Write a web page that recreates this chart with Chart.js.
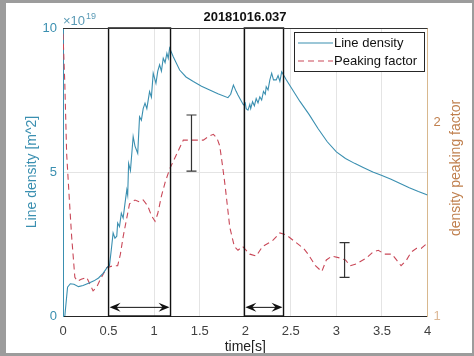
<!DOCTYPE html>
<html>
<head>
<meta charset="utf-8">
<script src="https://cdn.jsdelivr.net/npm/chart.js@4.4.1/dist/chart.umd.min.js"></script>
<style>
  html, body { margin: 0; padding: 0; background: #fff; overflow: hidden; }
  #wrap { width: 474px; height: 356px; position: relative; }
</style>
</head>
<body>
<div id="wrap"><canvas id="chart"></canvas></div>
<script>
// line density [1e19 m^-2]
const densityTime = [0.02, 0.05, 0.08, 0.12, 0.17, 0.22, 0.28, 0.34, 0.39, 0.44, 0.49, 0.51, 0.53, 0.55, 0.57, 0.59, 0.60, 0.62, 0.64, 0.66, 0.68, 0.70, 0.71, 0.72, 0.74, 0.77, 0.79, 0.82, 0.84, 0.86, 0.88, 0.90, 0.92, 0.95, 0.97, 0.99, 1.02, 1.04, 1.06, 1.08, 1.10, 1.12, 1.14, 1.155, 1.17, 1.21, 1.28, 1.35, 1.43, 1.52, 1.61, 1.70, 1.81, 1.84, 1.87, 1.90, 1.92, 1.95, 1.98, 2.00, 2.01, 2.03, 2.05, 2.06, 2.08, 2.10, 2.12, 2.14, 2.16, 2.18, 2.20, 2.22, 2.23, 2.25, 2.27, 2.29, 2.31, 2.34, 2.36, 2.38, 2.40, 2.45, 2.50, 2.60, 2.70, 2.80, 2.90, 3.00, 3.10, 3.20, 3.30, 3.40, 3.50, 3.60, 3.70, 3.80, 3.90, 4.00];
const lineDensity = [0, 1.0, 1.12, 1.1, 1.02, 1.06, 1.14, 1.22, 1.32, 1.48, 1.71, 1.75, 2.3, 2.88, 2.7, 2.77, 3.23, 3.1, 3.57, 3.4, 3.9, 4.38, 4.2, 5.3, 5.05, 6.23, 5.9, 5.65, 6.92, 6.8, 7.2, 7.39, 7.2, 7.79, 7.6, 8.43, 8.08, 8.5, 8.72, 8.5, 8.95, 8.8, 9.12, 8.95, 9.3, 9.0, 8.54, 8.3, 8.14, 7.98, 7.85, 7.72, 7.58, 7.7, 8.02, 7.8, 7.67, 7.5, 7.33, 7.4, 7.2, 7.15, 7.35, 7.2, 7.44, 7.3, 7.55, 7.4, 7.61, 7.5, 7.8, 7.7, 7.96, 7.85, 8.2, 8.43, 8.2, 8.2, 8.35, 8.15, 8.48, 8.2, 7.95, 7.45, 7.0, 6.5, 6.05, 5.7, 5.47, 5.3, 5.15, 5.0, 4.88, 4.75, 4.6, 4.45, 4.32, 4.2];

// density peaking factor
const peakingTime = [0, 0.02, 0.04, 0.07, 0.095, 0.13, 0.16, 0.2, 0.26, 0.3, 0.33, 0.37, 0.41, 0.48, 0.55, 0.6, 0.63, 0.66, 0.73, 0.79, 0.84, 0.88, 0.93, 0.97, 1.01, 1.04, 1.08, 1.12, 1.17, 1.25, 1.32, 1.43, 1.54, 1.6, 1.65, 1.69, 1.72, 1.75, 1.78, 1.83, 1.88, 1.92, 1.97, 2.05, 2.12, 2.19, 2.3, 2.38, 2.45, 2.53, 2.64, 2.69, 2.77, 2.84, 2.89, 2.95, 3.04, 3.1, 3.15, 3.22, 3.33, 3.4, 3.46, 3.53, 3.61, 3.66, 3.71, 3.77, 3.82, 3.88, 3.93, 3.98];
const peakingFactor = [2.46, 2.2, 1.84, 1.6, 1.41, 1.2, 1.18, 1.19, 1.2, 1.16, 1.13, 1.15, 1.19, 1.25, 1.26, 1.26, 1.32, 1.41, 1.58, 1.6, 1.59, 1.6, 1.57, 1.52, 1.49, 1.53, 1.62, 1.69, 1.76, 1.84, 1.91, 1.91, 1.91, 1.93, 1.94, 1.92, 1.88, 1.78, 1.67, 1.46, 1.36, 1.34, 1.36, 1.32, 1.31, 1.36, 1.39, 1.43, 1.42, 1.39, 1.35, 1.32, 1.26, 1.23, 1.29, 1.31, 1.30, 1.29, 1.26, 1.27, 1.30, 1.33, 1.34, 1.32, 1.32, 1.29, 1.26, 1.29, 1.33, 1.35, 1.35, 1.37];

// marked time windows and error bars
const windowStart = [0.5, 1.99];
const windowEnd = [1.18, 2.42];
const arrowLevel = 0.3;
const errTime = [1.41, 3.09];
const errLow = [1.75, 1.20];
const errHigh = [2.04, 1.38];

const xTicks = [0, 0.5, 1, 1.5, 2, 2.5, 3, 3.5, 4];
const leftTicks = [0, 5, 10];
const rightTicks = [1, 2];

const TEAL = '#3a8fb0';
const RED = '#c94858';
const TAN = '#c0804f';
const FONT = '"Liberation Sans", Arial, sans-serif';

function arrowHead(ctx, x, y, dir) {
  ctx.beginPath();
  ctx.moveTo(x, y);
  ctx.lineTo(x - dir * 11, y - 4.5);
  ctx.lineTo(x - dir * 7, y);
  ctx.lineTo(x - dir * 11, y + 4.5);
  ctx.closePath();
  ctx.fill();
}

const decorations = {
  id: 'decorations',
  afterDatasetsDraw(chart) {
    const ctx = chart.ctx;
    const x = chart.scales.x, y = chart.scales.y, y1 = chart.scales.y1;
    const area = chart.chartArea;
    ctx.save();
    // time windows
    ctx.strokeStyle = '#111';
    ctx.lineWidth = 1.4;
    windowStart.forEach((s, i) => {
      const x0 = x.getPixelForValue(s), x1 = x.getPixelForValue(windowEnd[i]);
      ctx.strokeRect(x0, y.getPixelForValue(10), x1 - x0, y.getPixelForValue(0) - y.getPixelForValue(10));
      const ay = y.getPixelForValue(arrowLevel);
      ctx.lineWidth = 1;
      ctx.beginPath();
      ctx.moveTo(x0 + 4, ay);
      ctx.lineTo(x1 - 4, ay);
      ctx.stroke();
      ctx.fillStyle = '#111';
      arrowHead(ctx, x0 + 1, ay, -1);
      arrowHead(ctx, x1 - 1, ay, 1);
      ctx.lineWidth = 1.4;
    });
    // error bars
    ctx.strokeStyle = '#333';
    ctx.lineWidth = 1.2;
    errTime.forEach((t, i) => {
      const px = x.getPixelForValue(t);
      const lo = y1.getPixelForValue(errLow[i]), hi = y1.getPixelForValue(errHigh[i]);
      ctx.beginPath();
      ctx.moveTo(px, lo); ctx.lineTo(px, hi);
      ctx.moveTo(px - 5, lo); ctx.lineTo(px + 5, lo);
      ctx.moveTo(px - 5, hi); ctx.lineTo(px + 5, hi);
      ctx.stroke();
    });
    // top border
    ctx.strokeStyle = '#333';
    ctx.lineWidth = 1;
    ctx.beginPath();
    ctx.moveTo(area.left, area.top + 0.5);
    ctx.lineTo(area.right, area.top + 0.5);
    ctx.stroke();
    ctx.restore();
  },
  afterDraw(chart) {
    const ctx = chart.ctx;
    const W = chart.width, H = chart.height;
    ctx.save();
    // title
    ctx.fillStyle = '#111';
    ctx.font = 'bold 13px ' + FONT;
    ctx.textAlign = 'center';
    ctx.textBaseline = 'middle';
    ctx.fillText('20181016.037', 245, 17);
    // exponent
    ctx.fillStyle = '#5a9ab5';
    ctx.textAlign = 'left';
    ctx.textBaseline = 'alphabetic';
    ctx.font = '13px ' + FONT;
    ctx.fillText('\u00d710', 63, 25);
    ctx.font = '9px ' + FONT;
    ctx.fillText('19', 86, 19);
    // right axis title
    ctx.fillStyle = TAN;
    ctx.font = '14px ' + FONT;
    ctx.textAlign = 'center';
    ctx.textBaseline = 'middle';
    ctx.translate(456, 168);
    ctx.rotate(-Math.PI / 2);
    ctx.fillText('density peaking factor', 0, 0);
    ctx.setTransform(1, 0, 0, 1, 0, 0);
    // legend
    const lx = 294.5, ly = 32.5, lw = 130, lh = 39;
    ctx.fillStyle = '#fff';
    ctx.fillRect(lx, ly, lw, lh);
    ctx.strokeStyle = '#262626';
    ctx.lineWidth = 1;
    ctx.strokeRect(lx, ly, lw, lh);
    ctx.lineWidth = 1.2;
    ctx.strokeStyle = TEAL;
    ctx.beginPath(); ctx.moveTo(298, 43); ctx.lineTo(333, 43); ctx.stroke();
    ctx.strokeStyle = RED;
    ctx.setLineDash([6, 4]);
    ctx.beginPath(); ctx.moveTo(298, 61); ctx.lineTo(333, 61); ctx.stroke();
    ctx.setLineDash([]);
    ctx.fillStyle = '#111';
    ctx.font = '13px ' + FONT;
    ctx.textAlign = 'left';
    ctx.fillText('Line density', 334, 43);
    ctx.fillText('Peaking factor', 334, 61);
    // gray frame
    ctx.fillStyle = '#9c9c9c';
    ctx.fillRect(0, 0, W, 3);
    ctx.fillRect(0, 0, 6, H);
    ctx.fillRect(W - 2, 0, 2, H);
    ctx.fillRect(0, H - 3, W, 3);
    ctx.restore();
  }
};

new Chart(document.getElementById('chart'), {
  type: 'line',
  data: {
    datasets: [
      {
        label: 'Line density',
        data: densityTime.map((t, i) => ({ x: t, y: lineDensity[i] })),
        yAxisID: 'y',
        borderColor: TEAL,
        borderWidth: 1.1,
        pointRadius: 0,
        tension: 0
      },
      {
        label: 'Peaking factor',
        data: peakingTime.map((t, i) => ({ x: t, y: peakingFactor[i] })),
        yAxisID: 'y1',
        borderColor: RED,
        borderWidth: 1.1,
        borderDash: [6, 4],
        pointRadius: 0,
        tension: 0
      }
    ]
  },
  options: {
    responsive: true,
    maintainAspectRatio: false,
    animation: false,
    layout: { padding: { top: 28, left: 0, right: 0, bottom: 0 } },
    plugins: { legend: { display: false }, title: { display: false }, tooltip: { enabled: false } },
    scales: {
      x: {
        type: 'linear',
        min: 0, max: 4,
        afterFit: s => { s.height = 40; },
        afterBuildTicks: s => { s.ticks = xTicks.map(v => ({ value: v })); },
        ticks: { color: '#404040', font: { family: FONT, size: 13 }, padding: 8, maxRotation: 0, callback: v => String(v) },
        grid: { color: c => (c.tick && c.tick.value > 0 && c.tick.value < 4) ? '#e4e4e4' : 'rgba(0,0,0,0)', drawTicks: false },
        border: { color: '#262626', width: 1 },
        title: { display: true, text: 'time[s]', color: '#222', font: { family: FONT, size: 14 }, padding: { top: 0, bottom: 0 } }
      },
      y: {
        position: 'left',
        min: 0, max: 10,
        afterFit: s => { s.width = 63; },
        afterBuildTicks: s => { s.ticks = leftTicks.map(v => ({ value: v })); },
        ticks: { color: TEAL, font: { family: FONT, size: 13 }, padding: 6 },
        grid: { color: c => (c.tick && c.tick.value === 5) ? '#e4e4e4' : 'rgba(0,0,0,0)', drawTicks: false },
        border: { color: TEAL, width: 1 },
        title: { display: true, text: 'Line density [m^2]', color: TEAL, font: { family: FONT, size: 14 }, padding: { top: 24, bottom: 0 } }
      },
      y1: {
        position: 'right',
        min: 1, max: 2.49,
        afterFit: s => { s.width = 46.5; },
        afterBuildTicks: s => { s.ticks = rightTicks.map(v => ({ value: v })); },
        ticks: { color: c => c.tick.value === 1 ? '#dcb896' : TAN, font: { family: FONT, size: 13 }, padding: 6 },
        grid: { display: false, drawTicks: false },
        border: { color: '#d8b88e', width: 1 }
      }
    }
  },
  plugins: [decorations]
});
</script>
</body>
</html>
